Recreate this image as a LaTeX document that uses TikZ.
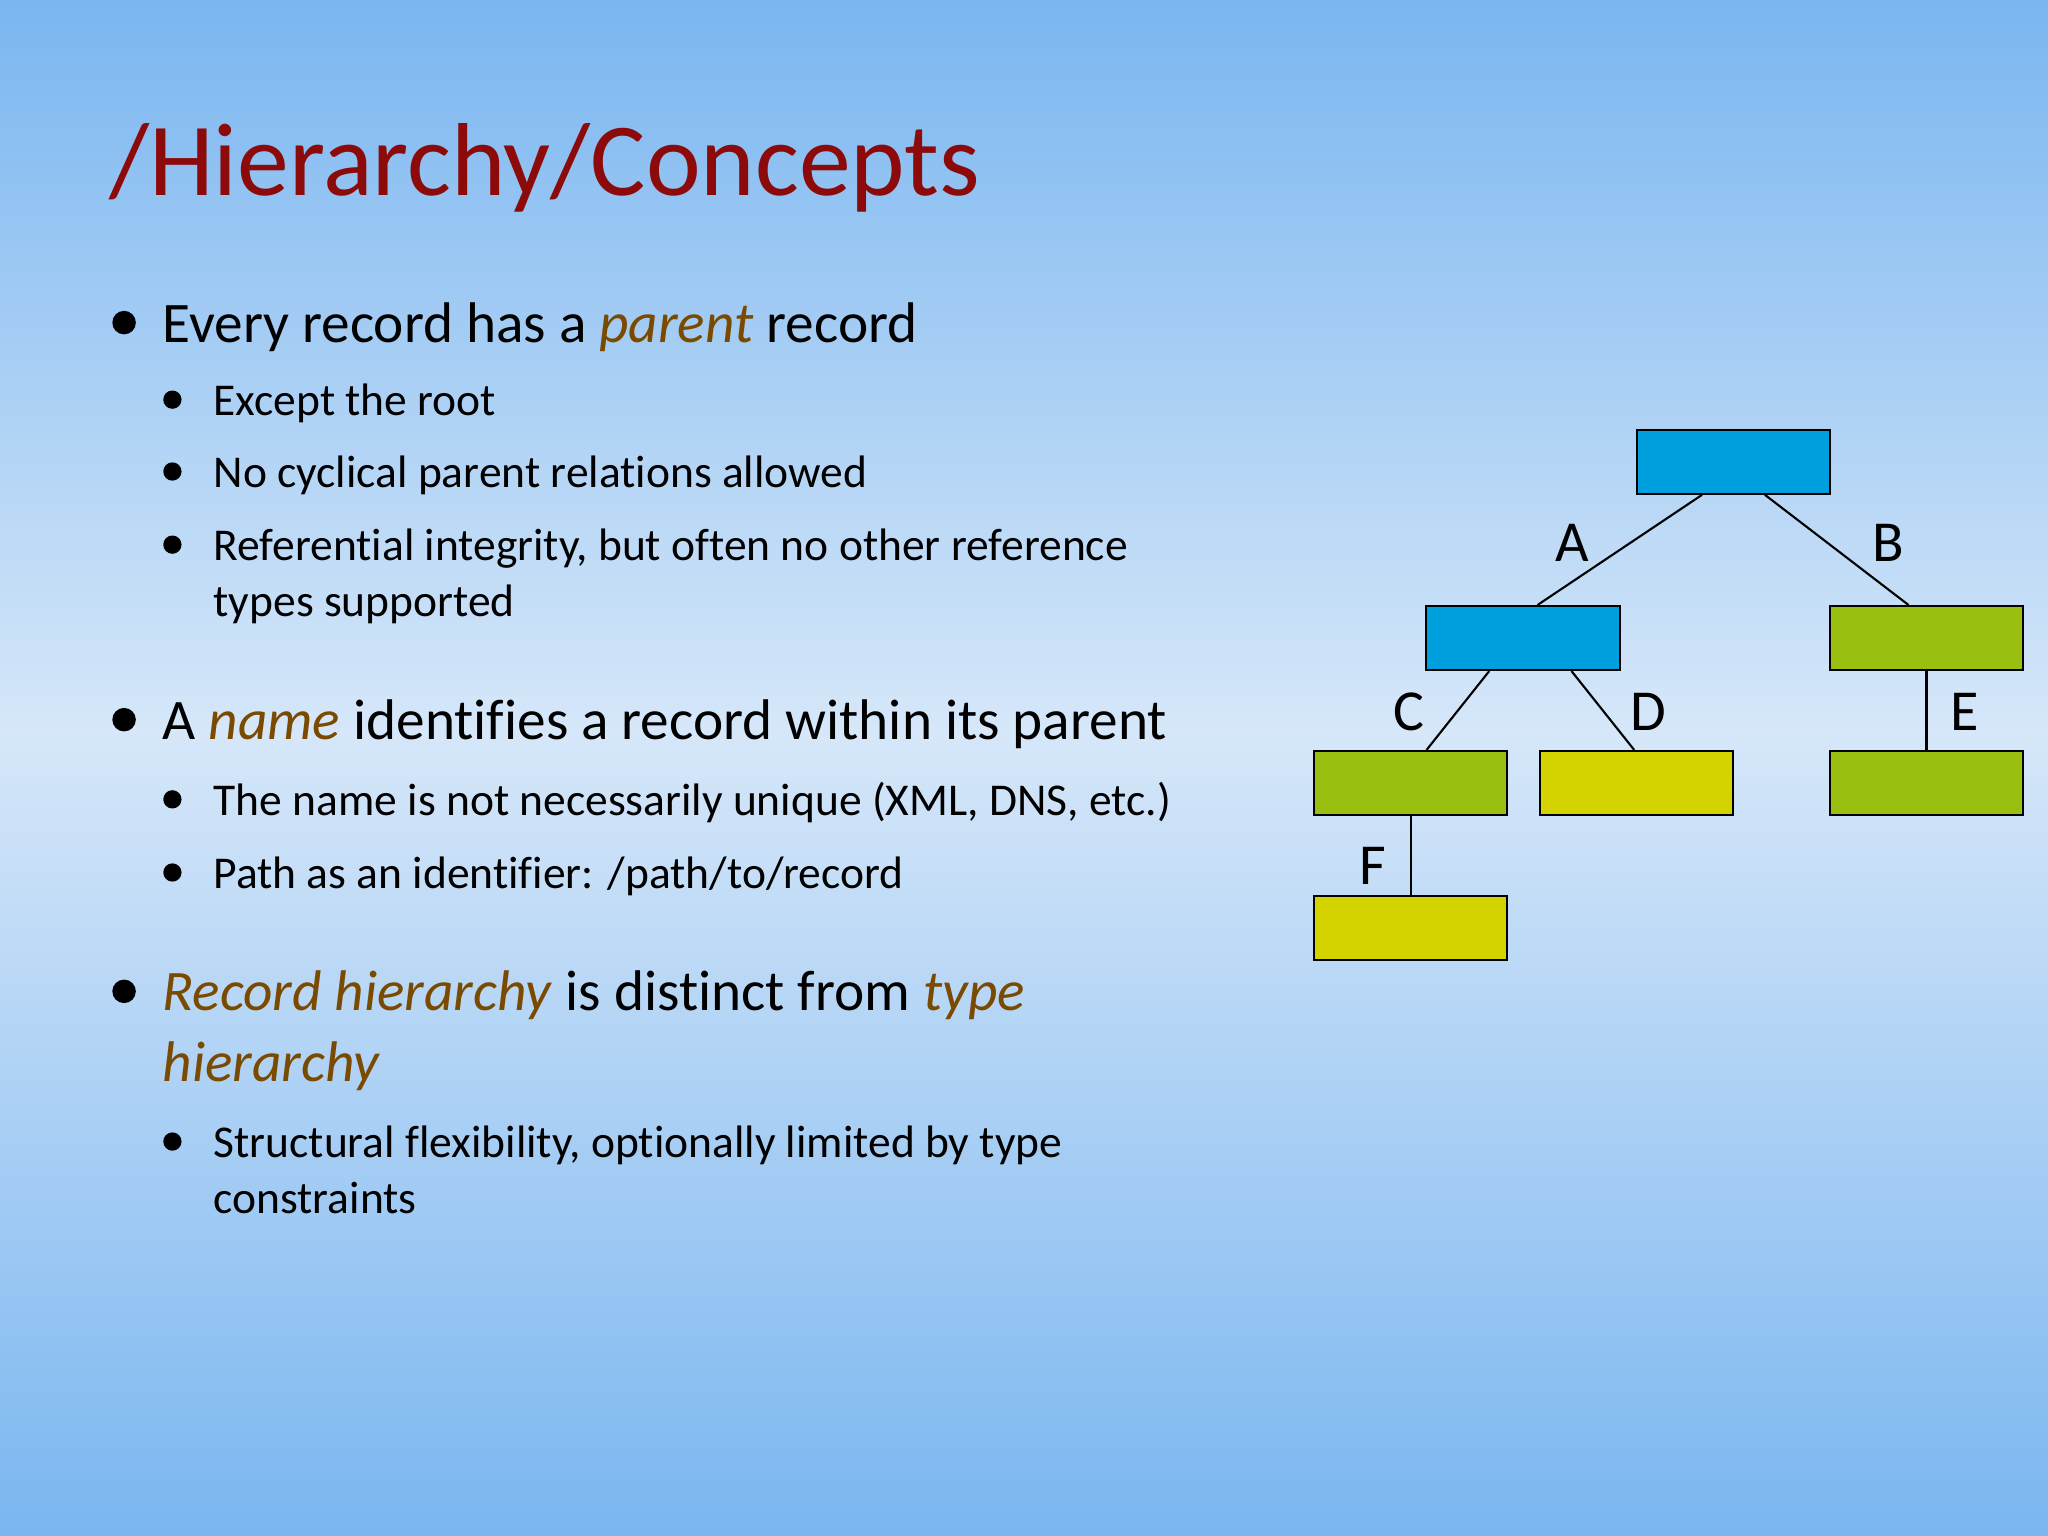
\documentclass[tikz,border=0pt]{standalone}
\usepackage{fontspec}
\setmainfont{Carlito}[RawFeature=-liga]
\usetikzlibrary{calc}
\definecolor{bgedge}{HTML}{7AB6F0}
\definecolor{bgmid}{HTML}{D6E7F9}
\definecolor{titlered}{HTML}{8C0A0A}
\definecolor{emph}{HTML}{7A4A00}
\definecolor{boxblue}{HTML}{00A0DE}
\definecolor{boxgreen}{HTML}{99C010}
\definecolor{boxyellow}{HTML}{D4D300}
\newcommand{\hemph}[1]{\textcolor{emph}{\textit{#1}}}
\begin{document}
\begin{tikzpicture}[x=0.013061cm,y=-0.013061cm,
  lone/.style={anchor=base west,inner sep=0pt,font=\fontsize{16.3}{20}\selectfont},
  ltwo/.style={anchor=base west,inner sep=0pt,font=\fontsize{12.95}{16}\selectfont},
  rec/.style={draw=black,line width=0.6pt,minimum width=1.933cm,minimum height=0.64cm,inner sep=0pt},
  lab/.style={font=\fontsize{16.5}{20}\selectfont,inner sep=0pt},
  edge/.style={line width=0.6pt}]
\shade[top color=bgedge,bottom color=bgmid] (0,0) rectangle (1568,560);
\shade[top color=bgmid,bottom color=bgedge] (0,560) rectangle (1568,1176);
\useasboundingbox (0,0) rectangle (1568,1176);
\node[anchor=base west,inner sep=0pt,text=titlered,font=\fontsize{29.5}{35}\selectfont] (title) at (83,150) {/Hierarchy/Concepts};
% bullets
\foreach \y in {262,566,774} \fill (95,\y-15) circle (9);
\foreach \y in {318,373,429,624,680,886} \fill (132,\y-12) circle (7);
\node[lone] (t1) at (124,262) {Every record has a \hemph{parent} record};
\node[ltwo] (t11) at (163,318) {Except the root};
\node[ltwo] (t12) at (163,373) {No cyclical parent relations allowed};
\node[ltwo] (t13) at (163,429) {Referential integrity, but often no other reference};
\node[ltwo] (t13b) at (163,472) {types supported};
\node[lone] (t2) at (124,566) {A \hemph{name} identifies a record within its parent};
\node[ltwo] (t21) at (163,624) {The name is not necessarily unique (XML, DNS, etc.)};
\node[ltwo] (t22) at (163,680) {Path as an identifier: /path/to/record};
\node[lone] (t3) at (124,774) {\hemph{Record hierarchy} is distinct from \hemph{type}};
\node[lone] (t3b) at (124,828) {\hemph{hierarchy}};
\node[ltwo] (t31) at (163,886) {Structural flexibility, optionally limited by type};
\node[ltwo] (t31b) at (163,929) {constraints};
% tree
\node[rec,fill=boxblue] (root) at (1327,353.5) {};
\node[rec,fill=boxblue] (a) at (1166,488.5) {};
\node[rec,fill=boxgreen] (b) at (1475,488.5) {};
\node[rec,fill=boxgreen] (c) at (1080,599.5) {};
\node[rec,fill=boxyellow] (d) at (1253,599.5) {};
\node[rec,fill=boxgreen] (e) at (1475,599.5) {};
\node[rec,fill=boxyellow] (f) at (1080,710.5) {};
\draw[edge] ($(root.south west)+(51,0)$) -- ($(a.north west)+(86,0)$);
\draw[edge] ($(root.south west)+(99,0)$) -- ($(b.north west)+(61,0)$);
\draw[edge] ($(a.south west)+(49,0)$) -- ($(c.north west)+(87,0)$);
\draw[edge] ($(a.south west)+(112,0)$) -- ($(d.north west)+(73,0)$);
\draw[edge] (b.south) -- (e.north);
\draw[edge] (c.south) -- (f.north);
\node[lab] (la) at (1204,416) {A};
\node[lab] (lb) at (1446,416) {B};
\node[lab] (lc) at (1079,545) {C};
\node[lab] (ld) at (1262,545) {D};
\node[lab] (le) at (1504,545) {E};
\node[lab] (lf) at (1051,663) {F};
\end{tikzpicture}
\end{document}
